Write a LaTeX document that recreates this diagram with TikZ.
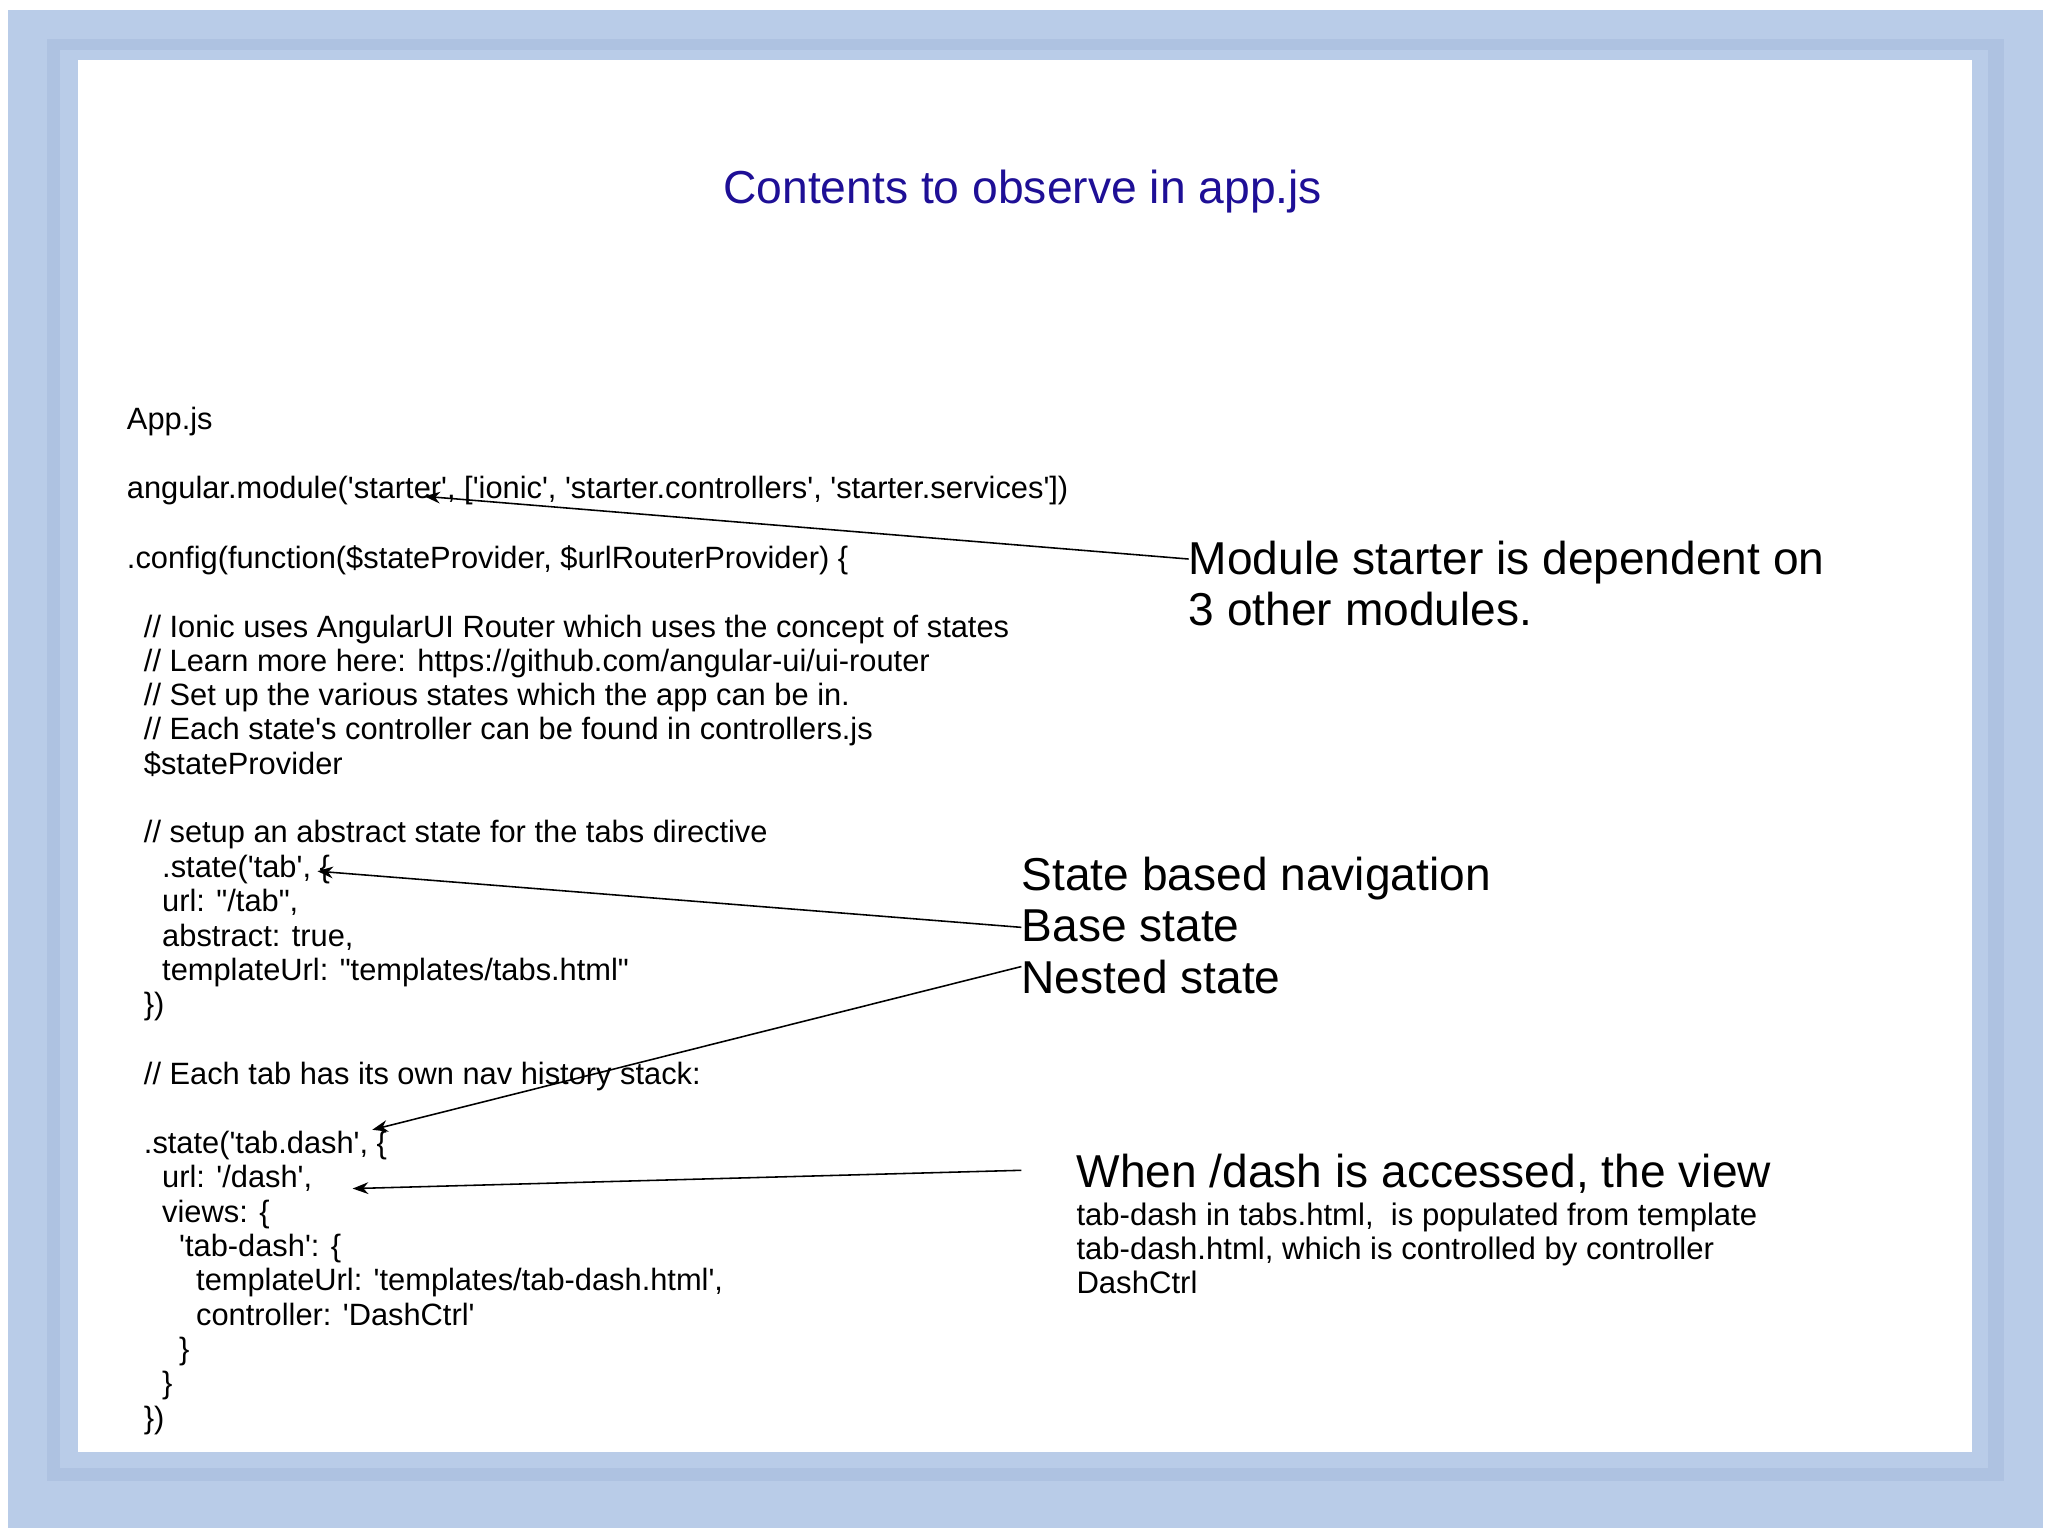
\documentclass[tikz,border=0pt]{standalone}
\usepackage{fontspec}
\setmainfont{Liberation Sans}[Ligatures=TeXOff]
\usetikzlibrary{arrows.meta}
\definecolor{frameblue}{RGB}{185,204,232}
\definecolor{framedark}{RGB}{140,168,212}
\definecolor{titleblue}{RGB}{30,15,150}
\begin{document}
\begin{tikzpicture}[x=1pt,y=-1pt,
  code/.style={anchor=base west,inner sep=0pt,font=\fontsize{23.6}{26}\selectfont},
  big/.style={anchor=base west,inner sep=0pt,font=\fontsize{35.3}{40}\selectfont},
  small/.style={anchor=base west,inner sep=0pt,font=\fontsize{23.8}{26}\selectfont},
  arr/.style={-{Stealth[length=12pt,width=9pt]},line width=1.2pt}]
\useasboundingbox (0,0) rectangle (1568,1175);
\fill[white] (0,0) rectangle (1568,1175);
\fill[frameblue] (6,8) rectangle (1564,1170);
\fill[framedark!70] (36,30) rectangle (1534,1134);
\fill[frameblue] (46,38) rectangle (1522,1124);
\fill[white] (60,46) rectangle (1510,1112);
\node[anchor=center,inner sep=0pt,text=titleblue,font=\fontsize{35.4}{40}\selectfont] (title) at (783,147) {Contents to observe in app.js};
\node[code] (l1) at (97,329) {App.js};
\node[code] (l2) at (97,382) {angular.module('starter', ['ionic', 'starter.controllers', 'starter.services'])};
\node[code] (l3) at (97,435) {.config(function(\$stateProvider, \$urlRouterProvider) \{};
\node[code] (l4) at (110,488) {// Ionic uses AngularUI Router which uses the concept of states};
\node[code] (l5) at (110,514) {// Learn more here: https://github.com/angular-ui/ui-router};
\node[code] (l6) at (110,540) {// Set up the various states which the app can be in.};
\node[code] (l7) at (110,566) {// Each state's controller can be found in controllers.js};
\node[code] (l8) at (110,593) {\$stateProvider};
\node[code] (l9) at (110,645) {// setup an abstract state for the tabs directive};
\node[code] (l10) at (124,672) {.state('tab', \{};
\node[code] (l11) at (124,698) {url: "/tab",};
\node[code] (l12) at (124,725) {abstract: true,};
\node[code] (l13) at (124,751) {templateUrl: "templates/tabs.html"};
\node[code] (l14) at (110,777) {\})};
\node[code] (l15) at (110,830) {// Each tab has its own nav history stack:};
\node[code] (l16) at (110,883) {.state('tab.dash', \{};
\node[code] (l17) at (124,909) {url: '/dash',};
\node[code] (l18) at (124,936) {views: \{};
\node[code] (l19) at (137,962) {'tab-dash': \{};
\node[code] (l20) at (150,988) {templateUrl: 'templates/tab-dash.html',};
\node[code] (l21) at (150,1015) {controller: 'DashCtrl'};
\node[code] (l22) at (137,1041) {\}};
\node[code] (l23) at (124,1067) {\}};
\node[code] (l24) at (110,1094) {\})};
\node[big] (m1) at (910,440) {Module starter is dependent on};
\node[big] (m2) at (910,479) {3 other modules.};
\node[big] (s1) at (782,682) {State based navigation};
\node[big] (s2) at (782,721) {Base state};
\node[big] (s3) at (782,761) {Nested state};
\node[big] (w1) at (824,909) {When /dash is accessed, the view};
\node[small] (w2) at (824,938) {tab-dash in tabs.html,\ \ is populated from template};
\node[small] (w3) at (824,964) {tab-dash.html, which is controlled by controller};
\node[small] (w4) at (824,990) {DashCtrl};
\coordinate (a1s) at (910,428); \coordinate (a1e) at (325,380);
\coordinate (a2s) at (782,710); \coordinate (a2e) at (243,667);
\coordinate (a3s) at (782,740); \coordinate (a3e) at (285,865);
\coordinate (a4s) at (782,896); \coordinate (a4e) at (270,910);
\draw[arr] (a1s) -- (a1e);
\draw[arr] (a2s) -- (a2e);
\draw[arr] (a3s) -- (a3e);
\draw[arr] (a4s) -- (a4e);
\end{tikzpicture}
\end{document}
